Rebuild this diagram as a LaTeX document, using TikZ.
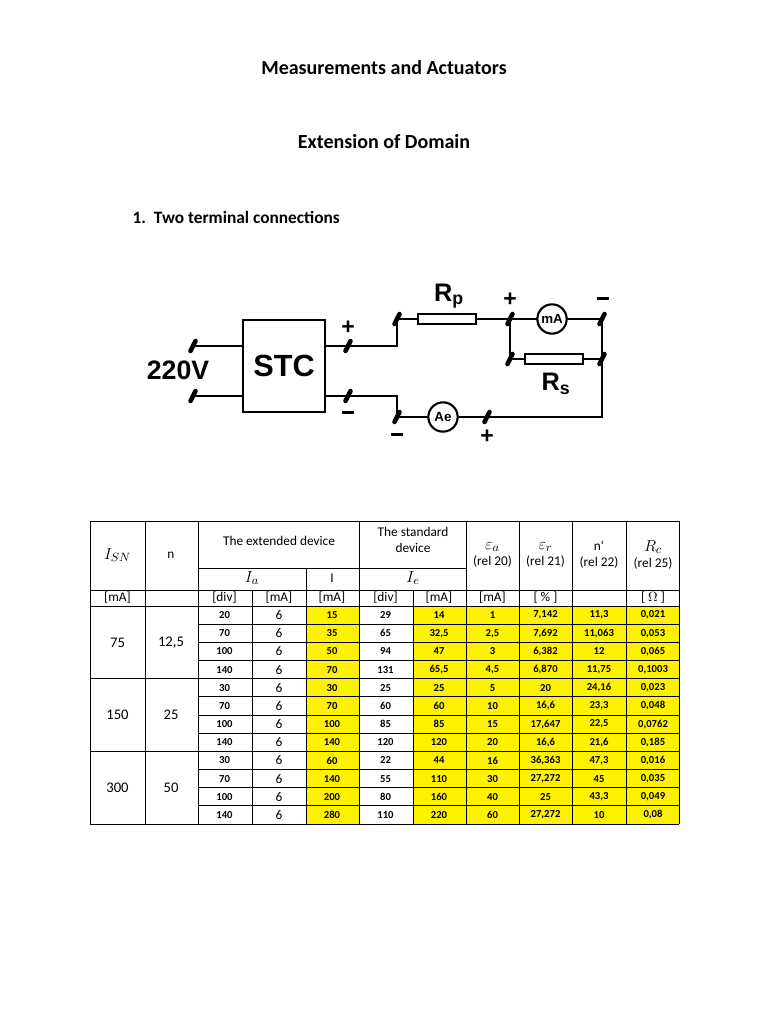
\documentclass[tikz,border=0pt]{standalone}
\usepackage{fontspec}
\setmainfont{Carlito}
\newfontfamily\arialf{Liberation Sans}
\usepackage{amsmath}
\usetikzlibrary{calc}
\newcommand{\mns}{\rule[0.3ex]{9pt}{2pt}}
\newcommand{\bm}[1]{{\fontsize{13}{14}\selectfont$#1$}}
\begin{document}
\begin{tikzpicture}[x=0.75pt,y=-0.75pt,
  wire/.style={line width=1.6pt},
  term/.style={line width=3.4pt,line cap=round},
  meter/.style={circle,draw,line width=1.6pt,minimum size=22pt,inner sep=0pt,font=\arialf\bfseries\normalsize,fill=white},
  resist/.style={draw,line width=1.6pt,fill=white,minimum width=43pt,minimum height=8pt,inner sep=0pt},
  sgn/.style={font=\arialf\bfseries\LARGE},
  hd/.style={font=\fontsize{10}{12}\selectfont,align=center},
  hw/.style={font=\fontsize{8}{9}\selectfont\bfseries},
  grid/.style={line width=0.6pt}]
\useasboundingbox (0,0) rectangle (768,1024);
% titles
\node[font=\fontsize{15}{17}\selectfont\bfseries] (t1) at (384,68) {Measurements and Actuators};
\node[font=\fontsize{15}{17}\selectfont\bfseries] (t2) at (384,142) {Extension of Domain};
\node[font=\fontsize{13}{15}\selectfont\bfseries,anchor=west] (t3) at (128,217) {1.\ \ Two terminal connections};
% circuit
\node[draw,line width=1.6pt,minimum width=61.5pt,minimum height=69pt,font=\arialf\bfseries\fontsize{23}{25}\selectfont] (stc) at (284,366) {STC};
\node[font=\arialf\bfseries\fontsize{20}{22}\selectfont] (v) at (178,370) {220V};
\coordinate (i1) at (193,346); \coordinate (i2) at (193,396);
\coordinate (o1) at (348,346); \coordinate (o2) at (348,396);
\coordinate (a1) at (397,319); \coordinate (b1) at (397,417);
\coordinate (p1) at (510,319); \coordinate (p2) at (510,359);
\coordinate (q1) at (602,319); \coordinate (q2) at (602,359);
\coordinate (e2) at (487,417); \coordinate (br) at (602,417);
\draw[wire] (i1) -- (i1-|stc.west);
\draw[wire] (i2) -- (i2-|stc.west);
\draw[wire] (o1-|stc.east) -- (o1) -- (397,346) -- (a1) -- (p1) -- (q1) -- (q2) -- (br) -- (e2) -- (b1) -- (397,396) -- (o2) -- (o2-|stc.east);
\draw[wire] (p1) -- (p2) -- (q2);
\node[resist] (rp) at (447,319) {};
\node[resist] (rs) at (554,359) {};
\node[meter] (ma) at (552,319) {mA};
\node[meter] (ae) at (443,417) {Ae};
\foreach \c in {i1,i2,o1,o2,a1,b1,p1,p2,q1,q2,e2}
  \draw[term] ($(\c)+(-2.5,5)$) -- ($(\c)+(2.5,-5)$);
\node[font=\arialf\bfseries\fontsize{19}{21}\selectfont] (rpl) at (449,296) {R\textsubscript{p}};
\node[font=\arialf\bfseries\fontsize{19}{21}\selectfont] (rsl) at (556,384) {R\textsubscript{s}};
\node[sgn] (s1) at (348,328) {+};
\node[sgn] (s2) at (348,414) {\mns};
\node[sgn] (s3) at (510,300) {+};
\node[sgn] (s4) at (603,300) {\mns};
\node[sgn] (s5) at (397,436) {\mns};
\node[sgn] (s6) at (487,437) {+};
% table
\def\rh{18.17}
\fill[yellow] (306,606) rectangle (359,824);
\fill[yellow] (413,606) rectangle (679,824);
\foreach \x in {90,145,679} \draw[grid] (\x,521) -- (\x,824);
\foreach \x in {198,359,466,519,572,626} \draw[grid] (\x,521) -- (\x,824);
\draw[grid] (306,568) -- (306,824);
\foreach \x in {252,413} \draw[grid] (\x,590) -- (\x,824);
\draw[grid] (198,568) -- (466,568);
\foreach \y in {521,590,606,678.7,751.4,824} \draw[grid] (90,\y) -- (679,\y);
\foreach \k in {1,2,3,5,6,7,9,10,11} \draw[grid] (198,606+\k*\rh) -- (679,606+\k*\rh);
% headers
\node[hd] (h1) at (117.5,555) {\bm{I_{SN}}};
\node[hd] (h2) at (171,555) {n};
\node[hd] (h3) at (279,541) {The extended device};
\node[hd] (h4) at (413,540) {The standard\\device};
\node[hd] (h5) at (492.5,555) {\bm{\varepsilon_a}\\(rel 20)};
\node[hd] (h6) at (545.5,555) {\bm{\varepsilon_r}\\(rel 21)};
\node[hd] (h7) at (599,555) {n`\\(rel 22)};
\node[hd] (h8) at (653,555) {\bm{R_c}\\(rel 25)};
\node[hd] (h9) at (252,578) {\bm{I_a}};
\node[hd] (h10) at (332,578) {I};
\node[hd] (h11) at (413,578) {\bm{I_e}};
\foreach \t [count=\i] in {{[mA]},{},{[div]},{[mA]},{[mA]},{[div]},{[mA]},{[mA]},{[ \% ]},{},{[ $\Omega$ ]}}{
  \pgfmathsetmacro\cx{{117.5,171,224.5,279,332,385.5,439,492.5,545.5,599,653}[\i-1]}
  \node[hd] (u\i) at (\cx,598) {\t};}
% data
\foreach \k/\a/\b/\c/\d/\e/\f/\g/\h/\j in {
 1/20/6/15/29/14/1/{7,142}/{11,3}/{0,021},
 2/70/6/35/65/{32,5}/{2,5}/{7,692}/{11,063}/{0,053},
 3/100/6/50/94/47/3/{6,382}/12/{0,065},
 4/140/6/70/131/{65,5}/{4,5}/{6,870}/{11,75}/{0,1003},
 5/30/6/30/25/25/5/20/{24,16}/{0,023},
 6/70/6/70/60/60/10/{16,6}/{23,3}/{0,048},
 7/100/6/100/85/85/15/{17,647}/{22,5}/{0,0762},
 8/140/6/140/120/120/20/{16,6}/{21,6}/{0,185},
 9/30/6/60/22/44/16/{36,363}/{47,3}/{0,016},
 10/70/6/140/55/110/30/{27,272}/45/{0,035},
 11/100/6/200/80/160/40/25/{43,3}/{0,049},
 12/140/6/280/110/220/60/{27,272}/10/{0,08}}{
  \pgfmathsetmacro\yy{606+(\k-0.5)*\rh}
  \node[hw] (d\k a) at (224.5,\yy) {\a};
  \node[hw,font=\fontsize{10}{10}\selectfont] (d\k b) at (279,\yy) {\b};
  \node[hw] (d\k c) at (332,\yy) {\c};
  \node[hw] (d\k d) at (385.5,\yy) {\d};
  \node[hw] (d\k e) at (439,\yy) {\e};
  \node[hw] (d\k f) at (492.5,\yy) {\f};
  \node[hw] (d\k g) at (545.5,\yy) {\g};
  \node[hw] (d\k h) at (599,\yy) {\h};
  \node[hw] (d\k j) at (653,\yy) {\j};
}
\foreach \g/\p/\q in {1/75/{12,5},2/150/25,3/300/50}{
  \pgfmathsetmacro\yy{606+(\g-0.5)*4*\rh}
  \node[hw,font=\fontsize{11}{11}\selectfont] (g\g a) at (117.5,\yy) {\p};
  \node[hw,font=\fontsize{11}{11}\selectfont] (g\g b) at (171,\yy) {\q};
}
\end{tikzpicture}
\end{document}
